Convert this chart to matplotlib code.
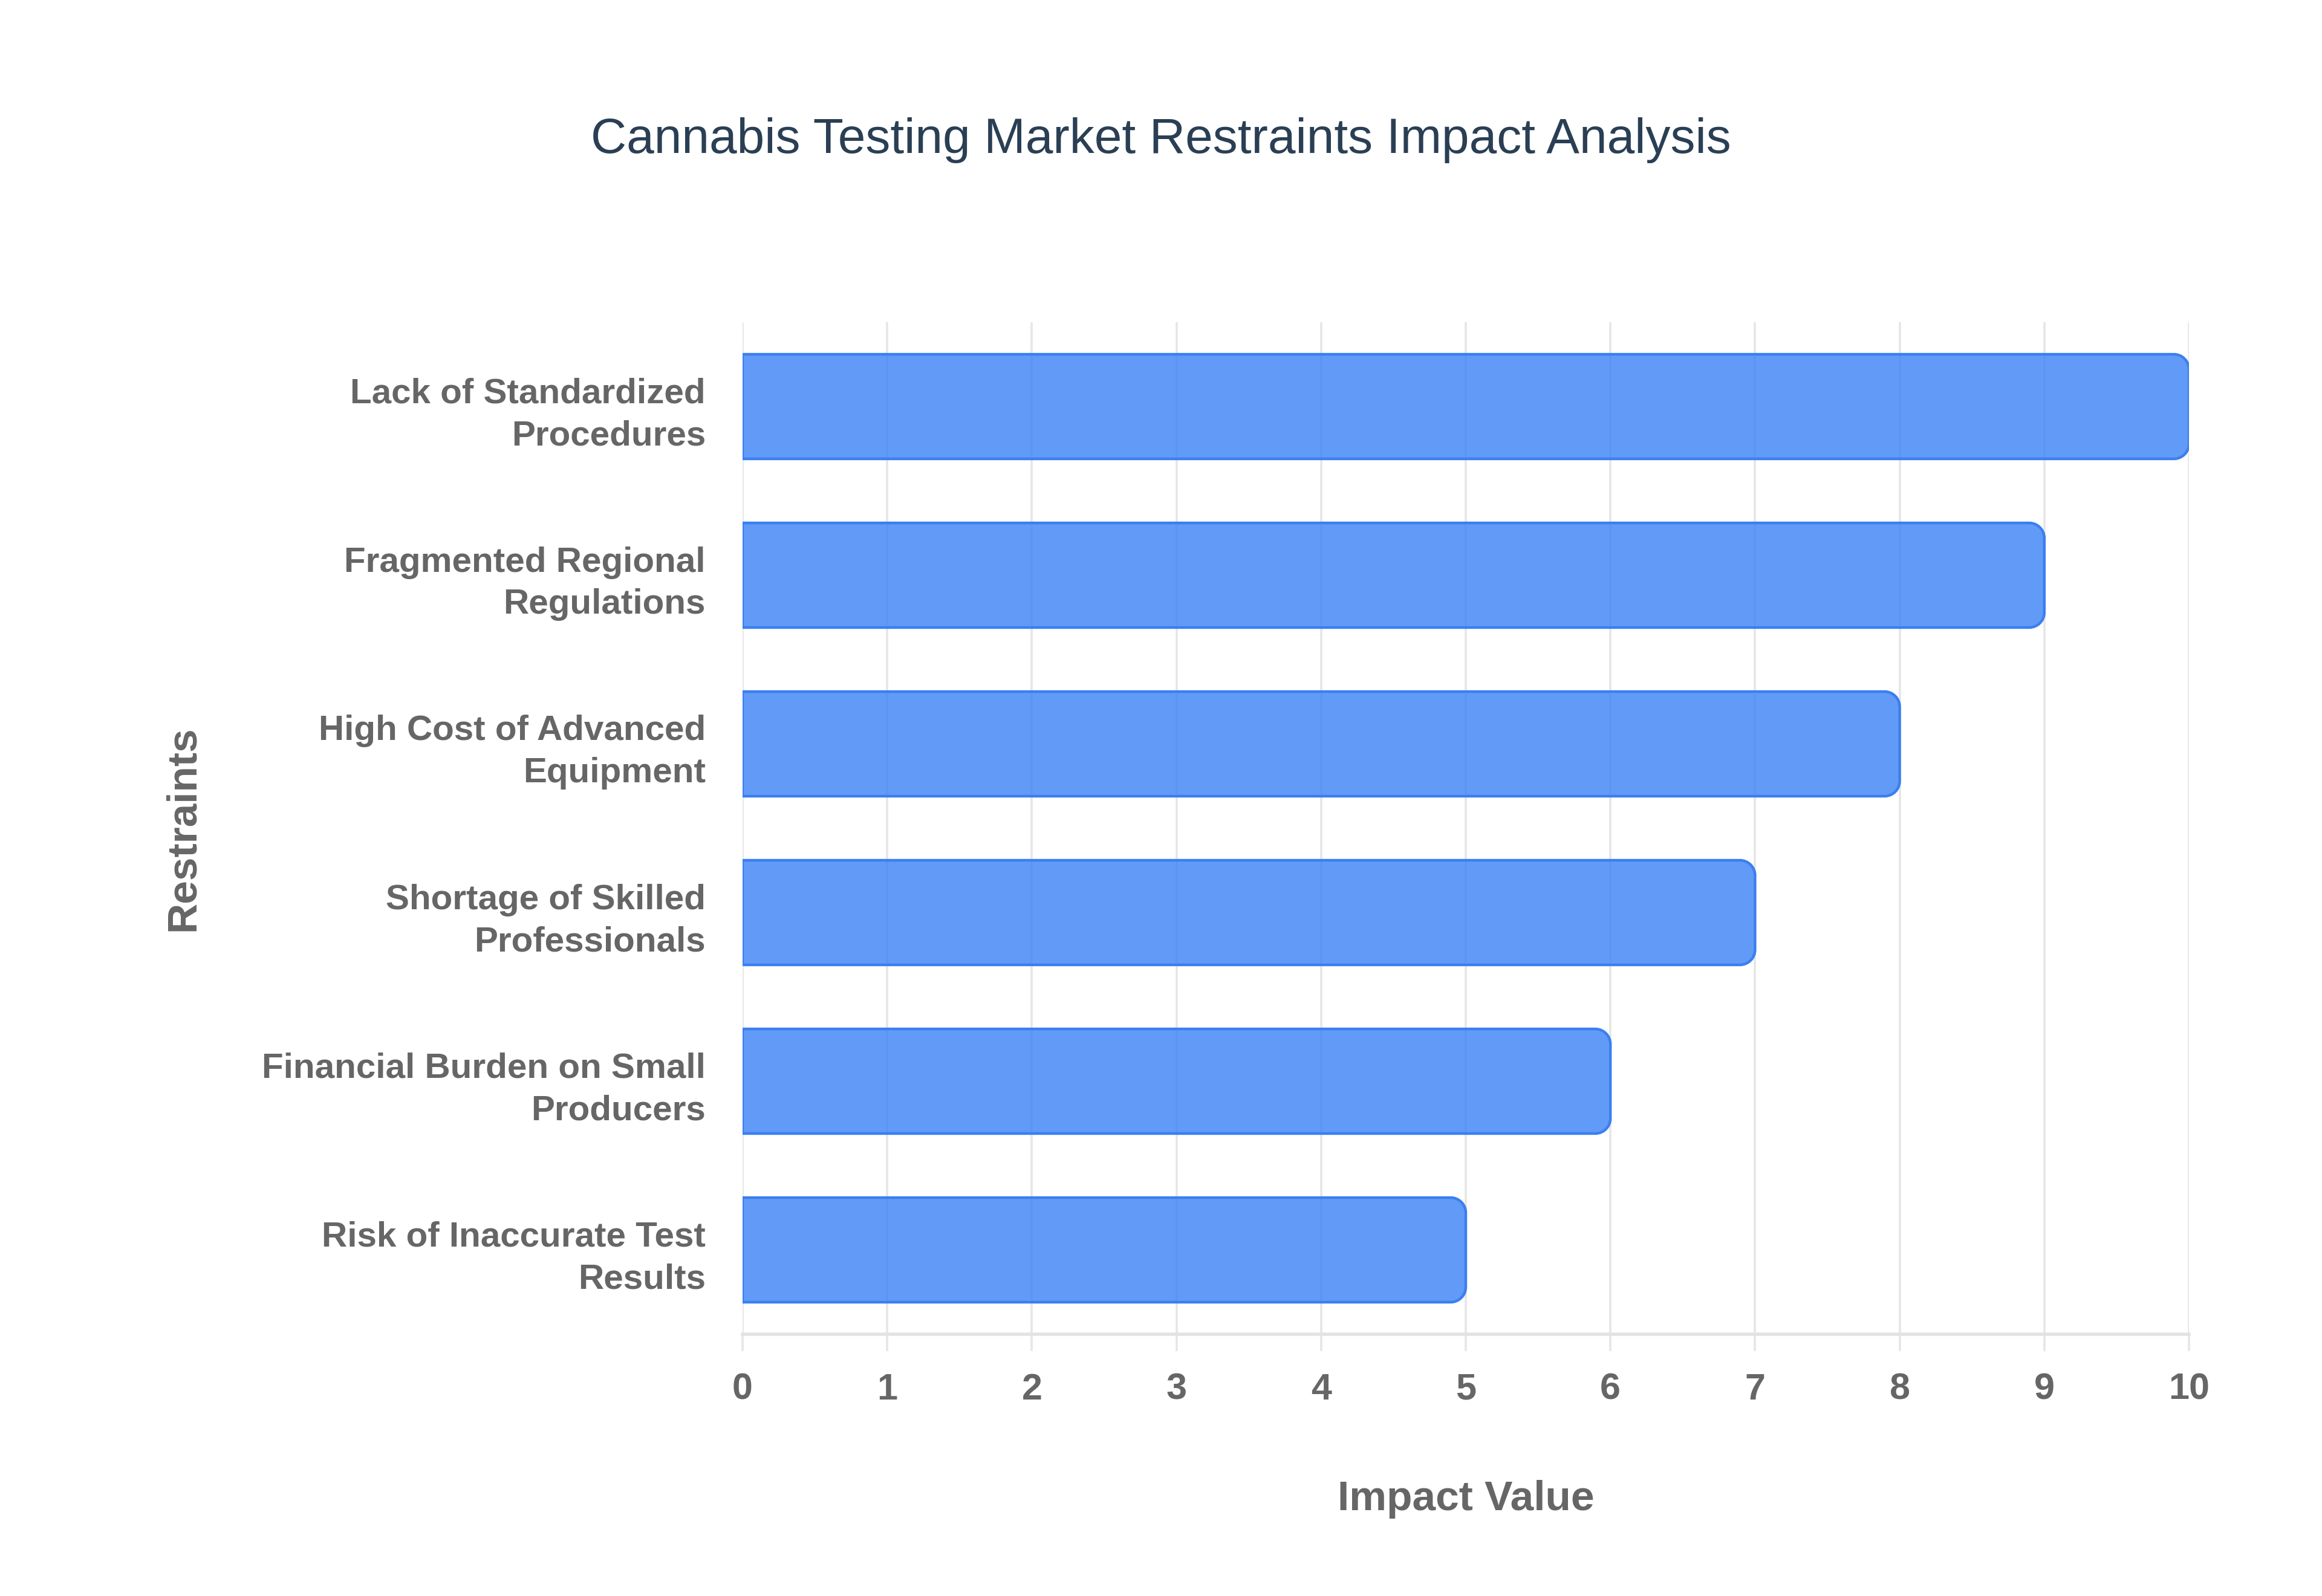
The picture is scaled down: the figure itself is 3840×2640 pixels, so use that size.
import matplotlib
matplotlib.use("Agg")
import matplotlib.pyplot as plt
from matplotlib.path import Path
from matplotlib.patches import PathPatch

categories = [
    "Lack of Standardized\nProcedures",
    "Fragmented Regional\nRegulations",
    "High Cost of Advanced\nEquipment",
    "Shortage of Skilled\nProfessionals",
    "Financial Burden on Small\nProducers",
    "Risk of Inaccurate Test\nResults",
]
values = [10, 9, 8, 7, 6, 5]
x_ticks = [0, 1, 2, 3, 4, 5, 6, 7, 8, 9, 10]

title = "Cannabis Testing Market Restraints Impact Analysis"
x_title = "Impact Value"
y_title = "Restraints"

plt.rcParams["font.family"] = ["Liberation Sans", "DejaVu Sans"]

W, H, DPI = 3840, 2640, 200
fig = plt.figure(figsize=(W / DPI, H / DPI), dpi=DPI, facecolor="white")
ax_l, ax_r, ax_t, ax_b = 1228, 3620, 533, 2207
ax = fig.add_axes([ax_l / W, 1 - ax_b / H, (ax_r - ax_l) / W, (ax_b - ax_t) / H])

ypos = list(range(len(categories)))
bars = ax.barh(ypos, values, height=0.62, color="none", edgecolor="none")
ax.set_xlim(0, 10)
ax.set_ylim(len(categories) - 0.5, -0.5)

px_per_x = (ax_r - ax_l) / 10.0
px_per_y = (ax_b - ax_t) / len(categories)
r_px = 25
rx = r_px / px_per_x
ry = r_px / px_per_y
k = 0.5523
for rect in bars:
    x0 = rect.get_x()
    y0 = rect.get_y()
    w = rect.get_width()
    h = rect.get_height()
    x1 = x0 + w
    y1 = y0 + h
    verts = [
        (x0, y0),
        (x1 - rx, y0),
        (x1 - rx + k * rx, y0), (x1, y0 + ry - k * ry), (x1, y0 + ry),
        (x1, y1 - ry),
        (x1, y1 - ry + k * ry), (x1 - rx + k * rx, y1), (x1 - rx, y1),
        (x0, y1),
        (x0, y0),
    ]
    codes = [Path.MOVETO, Path.LINETO,
             Path.CURVE4, Path.CURVE4, Path.CURVE4,
             Path.LINETO,
             Path.CURVE4, Path.CURVE4, Path.CURVE4,
             Path.LINETO, Path.CLOSEPOLY]
    patch = PathPatch(Path(verts, codes), facecolor=(0.231, 0.510, 0.965, 0.80),
                      edgecolor="#3b7ff0", linewidth=1.6, zorder=3)
    ax.add_patch(patch)
    rect.set_visible(False)

ax.set_xticks(x_ticks)
ax.set_xticklabels([str(t) for t in x_ticks])
ax.set_yticks(ypos)
ax.set_yticklabels(categories)

ax.grid(axis="x", color="#e6e6e6", linewidth=1.3, zorder=0)
ax.set_axisbelow(True)
for s in ["top", "right", "left"]:
    ax.spines[s].set_visible(False)
ax.spines["bottom"].set_color("#e3e3e3")
ax.spines["bottom"].set_linewidth(2.0)

ax.tick_params(axis="x", length=10, width=1.3, color="#e6e6e6", pad=13,
               labelsize=22, labelcolor="#666666")
ax.tick_params(axis="y", length=0, pad=22, labelsize=21, labelcolor="#666666")
for lab in ax.get_xticklabels() + ax.get_yticklabels():
    lab.set_fontweight("bold")
for lab in ax.get_yticklabels():
    lab.set_linespacing(1.38)

ax.set_xlabel(x_title, fontsize=25, fontweight="bold", color="#666666")
ax.xaxis.set_label_coords(0.5, -(2480 - ax_b) / (ax_b - ax_t))
ax.xaxis.label.set_va("center")
ax.set_ylabel(y_title, fontsize=25, fontweight="bold", color="#666666")
ax.yaxis.set_label_coords(-(ax_l - 303) / (ax_r - ax_l), 0.5)
ax.yaxis.label.set_va("center")

fig.text(0.5, 1 - 232 / H, title, ha="center", va="center", fontsize=29.5,
         color="#2a3f54")

fig.savefig("out.png", dpi=DPI, facecolor="white")
